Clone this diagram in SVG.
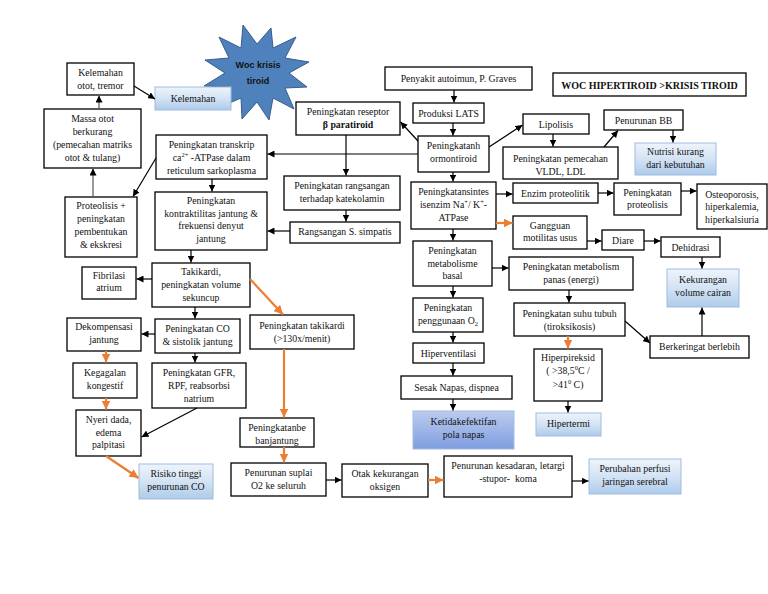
<svg xmlns="http://www.w3.org/2000/svg" width="768" height="594" viewBox="0 0 768 594">
<defs>
<linearGradient id="gb" x1="0" y1="0" x2="0" y2="1">
<stop offset="0" stop-color="#eef4fb"/>
<stop offset="0.5" stop-color="#d3e3f4"/>
<stop offset="1" stop-color="#aecbea"/>
</linearGradient>
<linearGradient id="gd" x1="0" y1="0" x2="0" y2="1">
<stop offset="0" stop-color="#bccbef"/>
<stop offset="1" stop-color="#7f9ee0"/>
</linearGradient>
<marker id="ab" viewBox="0 0 10 10" refX="10" refY="5" markerWidth="7" markerHeight="7" markerUnits="userSpaceOnUse" orient="auto"><path d="M0,0 L10,5 L0,10 z" fill="#000"/></marker>
<marker id="ao" viewBox="0 0 10 10" refX="10" refY="5" markerWidth="9" markerHeight="9" markerUnits="userSpaceOnUse" orient="auto"><path d="M0,0 L10,5 L0,10 z" fill="#ed7d31"/></marker>
<style>
rect.n{fill:#fff;stroke:#000;stroke-width:1.3}
rect.b{fill:url(#gb);stroke:#9ebde2;stroke-width:1}
rect.d{fill:url(#gd);stroke:#9ebde2;stroke-width:1}
text{font-family:"Liberation Serif","Times New Roman",serif;font-size:9.8px;fill:#111;text-anchor:middle}
text.t{font-weight:bold;font-size:10px}
text.s{font-family:"Liberation Sans",Arial,sans-serif;font-weight:bold;font-size:9px}
#conn line{stroke:#000;stroke-width:1.2;marker-end:url(#ab)}
#conn line.o{stroke:#ed7d31;stroke-width:2.2;marker-end:url(#ao)}
#conn line.g{stroke:#555}
</style>
</defs>
<rect width="768" height="594" fill="#fff"/>

<g id="star">
<polygon points="205,60 229,58 219,37 241,48 243,25 257,44 271,28 273,48 296,37 285,58 309,62 289,73 307,87 285,88 294,109 273,98 269,120 257,102 242,119 241,98 218,108 229,87 204,86 225,73" fill="#4f81bd" stroke="#385d8a" stroke-width="1"/>
<text class="s" x="258" y="68">Woc krisis</text>
<text class="s" x="258" y="84">tiroid</text>
</g>

<g id="title"><rect class="n" x="553" y="73" width="193" height="23"/><text class="t" x="649.5" y="89">WOC HIPERTIROID &gt;KRISIS TIROID</text></g>

<g id="kelemahan-otot"><rect class="n" x="67" y="63" width="67" height="32"/><text x="100.5" y="76">Kelemahan</text><text x="100.5" y="88.5">otot, tremor</text></g>
<g id="kelemahan"><rect class="b" x="155" y="87" width="76" height="23"/><text x="193" y="101.5">Kelemahan</text></g>
<g id="massa"><rect class="n" x="44" y="109" width="97" height="59"/><text x="92.5" y="122">Massa otot</text><text x="92.5" y="135">berkurang</text><text x="92.5" y="148">(pemecahan matriks</text><text x="92.5" y="161">otot &amp; tulang)</text></g>
<g id="transkrip"><rect class="n" x="156" y="135" width="111" height="44"/><text x="211.5" y="148">Peningkatan transkrip</text><text x="211.5" y="161">ca<tspan font-size="6.5" dy="-4">2+</tspan><tspan dy="4"> -ATPase dalam</tspan></text><text x="211.5" y="173.5">reticulum sarkoplasma</text></g>
<g id="kontraktilitas"><rect class="n" x="155" y="192" width="112" height="58"/><text x="211" y="204">Peningkatan</text><text x="211" y="216.5">kontraktilitas jantung &amp;</text><text x="211" y="229">frekuensi denyut</text><text x="211" y="241.5">jantung</text></g>
<g id="reseptor"><rect class="n" x="296" y="102" width="104" height="33"/><text x="348" y="114.5">Peningkatan reseptor</text><text x="348" y="127.5" font-weight="bold" font-size="9">β paratiroid</text></g>
<g id="rangsangan"><rect class="n" x="284" y="176" width="116" height="34"/><text x="342" y="188.5">Peningkatan rangsangan</text><text x="342" y="201.5">terhadap katekolamin</text></g>
<g id="simpatis"><rect class="n" x="290" y="222" width="110" height="21"/><text x="345" y="235">Rangsangan S. simpatis</text></g>
<g id="penyakit"><rect class="n" x="385" y="67" width="147" height="23"/><text x="458.5" y="81.5">Penyakit autoimun, P. Graves</text></g>
<g id="lats"><rect class="n" x="413" y="103" width="71" height="20"/><text x="448.5" y="116.5">Produksi LATS</text></g>
<g id="ormontiroid"><rect class="n" x="418" y="136" width="71" height="36"/><text x="453.5" y="148.5">Peningkatanh</text><text x="453.5" y="161.5">ormontiroid</text></g>
<g id="sintes"><rect class="n" x="411" y="182" width="85" height="47"/><text x="453.5" y="195">Peningkatansintes</text><text x="453.5" y="208">isenzim Na<tspan font-size="6.5" dy="-4">+</tspan><tspan dy="4">/ K</tspan><tspan font-size="6.5" dy="-4">+</tspan><tspan dy="4">-</tspan></text><text x="453.5" y="220.5">ATPase</text></g>
<g id="basal"><rect class="n" x="413" y="241" width="79" height="45"/><text x="452.5" y="254">Peningkatan</text><text x="452.5" y="266.5">metabolisme</text><text x="452.5" y="279">basal</text></g>
<g id="penggunaan"><rect class="n" x="413" y="298" width="70" height="34"/><text x="448" y="310.5">Peningkatan</text><text x="448" y="324">penggunaan O<tspan font-size="6.5" dy="2">2</tspan></text></g>
<g id="hiperventilasi"><rect class="n" x="413" y="343" width="71" height="20"/><text x="448.5" y="356.5">Hiperventilasi</text></g>
<g id="sesak"><rect class="n" x="401" y="376" width="111" height="23"/><text x="456.5" y="390.5">Sesak Napas, dispnea</text></g>
<g id="ketidakefektifan"><rect class="d" x="413" y="411" width="101" height="38"/><text x="463.5" y="425">Ketidakefektifan</text><text x="463.5" y="438">pola napas</text></g>
<g id="lipolisis"><rect class="n" x="523" y="114" width="66" height="20"/><text x="556" y="127.5">Lipolisis</text></g>
<g id="penurunan-bb"><rect class="n" x="604" y="110" width="79" height="20"/><text x="643.5" y="123.5">Penurunan BB</text></g>
<g id="vldl"><rect class="n" x="503" y="147" width="115" height="32"/><text x="560.5" y="162">Peningkatan pemecahan</text><text x="560.5" y="174.5">VLDL, LDL</text></g>
<g id="nutrisi"><rect class="b" x="635" y="143" width="81" height="32"/><text x="675.5" y="155">Nutrisi kurang</text><text x="675.5" y="168">dari kebutuhan</text></g>
<g id="enzim"><rect class="n" x="513" y="183" width="85" height="20"/><text x="555.5" y="196.5">Enzim proteolitik</text></g>
<g id="proteolisis"><rect class="n" x="614" y="183" width="67" height="32"/><text x="647.5" y="196">Peningkatan</text><text x="647.5" y="208">proteolisis</text></g>
<g id="osteoporosis"><rect class="n" x="697" y="184" width="70" height="45"/><text x="732" y="197.5">Osteoporosis,</text><text x="732" y="210">hiperkalemia,</text><text x="732" y="222.5">hiperkalsiuria</text></g>
<g id="gangguan"><rect class="n" x="513" y="216" width="74" height="33"/><text x="550" y="228.5">Gangguan</text><text x="550" y="241">motilitas usus</text></g>
<g id="diare"><rect class="n" x="602" y="230" width="42" height="20"/><text x="623" y="243.5">Diare</text></g>
<g id="dehidrasi"><rect class="n" x="661" y="237" width="59" height="20"/><text x="690.5" y="250.5">Dehidrasi</text></g>
<g id="kekurangan"><rect class="b" x="667" y="269" width="72" height="38"/><text x="703" y="282.5">Kekurangan</text><text x="703" y="295.5">volume cairan</text></g>
<g id="panas"><rect class="n" x="509" y="257" width="124" height="33"/><text x="571" y="270">Peningkatan metabolism</text><text x="571" y="282.5">panas (energi)</text></g>
<g id="suhu"><rect class="n" x="514" y="303" width="111" height="33"/><text x="569.5" y="316.5">Peningkatan suhu tubuh</text><text x="569.5" y="329.5">(tiroksikosis)</text></g>
<g id="berkeringat"><rect class="n" x="650" y="336" width="99" height="22"/><text x="699.5" y="350">Berkeringat berlebih</text></g>
<g id="hiperpireksid"><rect class="n" x="534" y="349" width="68" height="52"/><text x="568" y="360.5">Hiperpireksid</text><text x="568" y="374">( &gt;38,5<tspan font-size="6.5" dy="-4">0</tspan><tspan dy="4">C /</tspan></text><text x="568" y="387.5">&gt;41<tspan font-size="6.5" dy="-4">0</tspan><tspan dy="4"> C)</tspan></text></g>
<g id="hipertermi"><rect class="b" x="536" y="413" width="65" height="23"/><text x="568.5" y="427">Hipertermi</text></g>
<g id="proteolisis-plus"><rect class="n" x="65" y="197" width="72" height="60"/><text x="101" y="209">Proteolisis +</text><text x="101" y="222">peningkatan</text><text x="101" y="235">pembentukan</text><text x="101" y="247.5">&amp; ekskresi</text></g>
<g id="fibrilasi"><rect class="n" x="82" y="267" width="54" height="32"/><text x="109" y="278.5">Fibrilasi</text><text x="109" y="291">atrium</text></g>
<g id="takikardi"><rect class="n" x="152" y="263" width="98" height="44"/><text x="201" y="274.5">Takikardi,</text><text x="201" y="288">peningkatan volume</text><text x="201" y="300.5">sekuncup</text></g>
<g id="dekompensasi"><rect class="n" x="67" y="318" width="74" height="33"/><text x="104" y="330">Dekompensasi</text><text x="104" y="343">jantung</text></g>
<g id="co"><rect class="n" x="155" y="319" width="85" height="34"/><text x="197.5" y="331.5">Peningkatan CO</text><text x="197.5" y="344.5">&amp; sistolik jantung</text></g>
<g id="pen-takikardi"><rect class="n" x="250" y="315" width="104" height="34"/><text x="302" y="329">Peningkatan takikardi</text><text x="302" y="341.5">(&gt;130x/menit)</text></g>
<g id="kegagalan"><rect class="n" x="73" y="363" width="64" height="35"/><text x="105" y="376">Kegagalan</text><text x="105" y="388.5">kongestif</text></g>
<g id="gfr"><rect class="n" x="152" y="363" width="94" height="45"/><text x="199" y="376">Peningkatan GFR,</text><text x="199" y="389">RPF, reabsorbsi</text><text x="199" y="401.5">natrium</text></g>
<g id="nyeri"><rect class="n" x="76" y="410" width="65" height="46"/><text x="108.5" y="423">Nyeri dada,</text><text x="108.5" y="435.5">edema</text><text x="108.5" y="448">palpitasi</text></g>
<g id="risiko"><rect class="b" x="139" y="464" width="74" height="35"/><text x="176" y="476.5">Risiko tinggi</text><text x="176" y="489.5">penurunan CO</text></g>
<g id="peningkatanbe"><rect class="n" x="240" y="418" width="74" height="29"/><text x="277" y="431">Peningkatanbe</text><text x="277" y="444">banjantung</text></g>
<g id="suplai"><rect class="n" x="231" y="463" width="95" height="33"/><text x="278.5" y="475.5">Penurunan suplai</text><text x="278.5" y="489">O2 ke seluruh</text></g>
<g id="otak"><rect class="n" x="342" y="464" width="86" height="33"/><text x="385" y="476.5">Otak kekurangan</text><text x="385" y="489.5">oksigen</text></g>
<g id="kesadaran"><rect class="n" x="444" y="456" width="128" height="41"/><text x="508" y="469">Penurunan kesadaran, letargi</text><text x="508" y="482" xml:space="preserve">-stupor-  koma</text></g>
<g id="perubahan"><rect class="b" x="589" y="459" width="92" height="35"/><text x="635" y="471.5">Perubahan perfusi</text><text x="635" y="485">jaringan serebral</text></g>

<g id="conn">
<line class="g" x1="99" y1="109" x2="99" y2="95.5"/>
<line x1="134" y1="86" x2="155" y2="99"/>
<line class="g" x1="93" y1="197" x2="93" y2="168.5"/>
<line x1="156" y1="158" x2="133" y2="196.5"/>
<line x1="212" y1="179" x2="212" y2="191.5"/>
<line x1="418" y1="154" x2="267.5" y2="154"/>
<line x1="418" y1="141" x2="400.5" y2="122"/>
<line x1="346" y1="135" x2="346" y2="175.5"/>
<line x1="346" y1="210" x2="346" y2="221.5"/>
<line x1="290" y1="231" x2="267.5" y2="231"/>
<line x1="191" y1="250" x2="191" y2="262.5"/>
<line x1="152" y1="279" x2="136.5" y2="279"/>
<line class="o" x1="250" y1="279" x2="283" y2="314.5"/>
<line x1="195" y1="307" x2="195" y2="318.5"/>
<line x1="155" y1="334" x2="141.5" y2="334"/>
<line class="o" x1="106" y1="351" x2="106" y2="362.5"/>
<line x1="195" y1="353" x2="195" y2="362.5"/>
<line class="o" x1="106" y1="398" x2="106" y2="409.5"/>
<line x1="197" y1="408" x2="141.5" y2="437"/>
<line class="o" x1="106" y1="456" x2="138.5" y2="478"/>
<line class="o" x1="284" y1="349" x2="284" y2="417.5"/>
<line class="o" x1="284" y1="447" x2="284" y2="462.5"/>
<line x1="326" y1="480" x2="341.5" y2="480"/>
<line class="o" x1="428" y1="480" x2="443.5" y2="480"/>
<line x1="572" y1="481" x2="588.5" y2="481"/>
<line x1="454" y1="90" x2="454" y2="102.5"/>
<line x1="453" y1="123" x2="453" y2="135.5"/>
<line x1="489" y1="147" x2="522.5" y2="125"/>
<line x1="453" y1="172" x2="453" y2="181.5"/>
<line x1="553" y1="134" x2="553" y2="146.5"/>
<line x1="604" y1="147" x2="618" y2="130.5"/>
<line x1="673" y1="130" x2="673" y2="142.5"/>
<line x1="496" y1="194" x2="512.5" y2="194"/>
<line class="o" x1="496" y1="223" x2="512.5" y2="223"/>
<line x1="598" y1="193" x2="613.5" y2="193"/>
<line x1="681" y1="191" x2="696.5" y2="191"/>
<line x1="587" y1="241" x2="601.5" y2="241"/>
<line x1="644" y1="241" x2="660.5" y2="241"/>
<line x1="702" y1="257" x2="702" y2="268.5"/>
<line x1="702" y1="336" x2="702" y2="307.5"/>
<line x1="453" y1="229" x2="453" y2="240.5"/>
<line x1="492" y1="268" x2="508.5" y2="268"/>
<line x1="569" y1="290" x2="569" y2="302.5"/>
<line x1="625" y1="321" x2="650" y2="343"/>
<line class="o" x1="568" y1="336" x2="568" y2="348.5"/>
<line x1="568" y1="401" x2="568" y2="412.5"/>
<line x1="453" y1="286" x2="453" y2="297.5"/>
<line x1="453" y1="332" x2="453" y2="342.5"/>
<line x1="453" y1="363" x2="453" y2="375.5"/>
<line x1="453" y1="399" x2="453" y2="410.5"/>
</g>
</svg>
